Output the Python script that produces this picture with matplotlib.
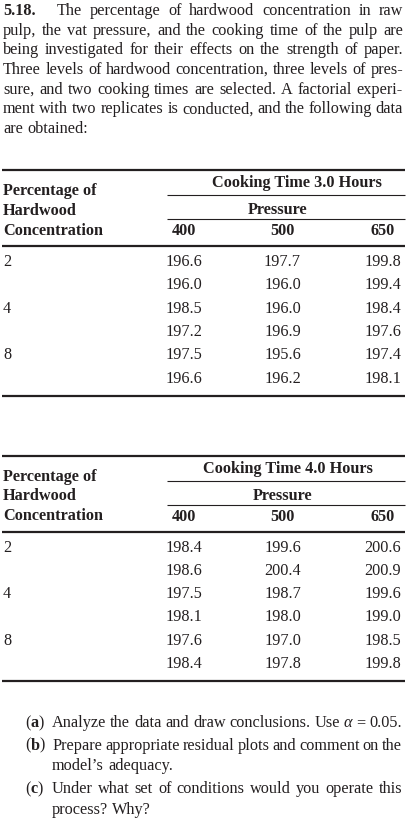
import matplotlib
matplotlib.use('Agg')
import matplotlib.pyplot as plt

plt.rcParams['font.family'] = ['Liberation Serif', 'DejaVu Serif']

ink = '#231f20'
fs = 11.7

intro_num = '5.18.'
intro = ['The percentage of hardwood concentration in raw',
         'pulp, the vat pressure, and the cooking time of the pulp are',
         'being investigated for their effects on the strength of paper.',
         'Three levels of hardwood concentration, three levels of pres-',
         'sure, and two cooking times are selected. A factorial experi-',
         'ment with two replicates is conducted, and the following data',
         'are obtained:']

conc = ['2', '4', '8']
pressure = ['400', '500', '650']
times = ['3.0', '4.0']
t3 = [[196.6, 197.7, 199.8],
      [196.0, 196.0, 199.4],
      [198.5, 196.0, 198.4],
      [197.2, 196.9, 197.6],
      [197.5, 195.6, 197.4],
      [196.6, 196.2, 198.1]]
t4 = [[198.4, 199.6, 200.6],
      [198.6, 200.4, 200.9],
      [197.5, 198.7, 199.6],
      [198.1, 198.0, 199.0],
      [197.6, 197.0, 198.5],
      [198.4, 197.8, 199.8]]

fig = plt.figure(figsize=(4.11, 8.22), dpi=100)
ax = fig.add_axes([0, 0, 1, 1])
ax.set_xlim(0, 411)
ax.set_ylim(822, 0)
ax.axis('off')
rend = fig.canvas.get_renderer()


def width(s, **kw):
    t = ax.text(0, 0, s, fontsize=fs, **kw)
    w = t.get_window_extent(rend).width
    t.remove()
    return w


def line(words, x0, x1, y, justify=True):
    # words: list of (text, kwargs)
    ws = [width(w, **k) for w, k in words]
    if justify and len(words) > 1:
        gap = (x1 - x0 - sum(ws)) / (len(words) - 1)
    else:
        gap = width('a b') - width('ab')
    x = x0
    for (w, k), wd in zip(words, ws):
        ax.text(x, y, w, fontsize=fs, color=ink, va='baseline', ha='left', **k)
        x += wd + gap


def label(letter, x, y):
    # "(a)" with regular parens and bold letter
    for s, k in [('(', {}), (letter, {'weight': 'bold'}), (')', {})]:
        ax.text(x, y, s, fontsize=fs, color=ink, va='baseline', **k)
        x += width(s, **k)


def plain(s):
    return [(w, {}) for w in s.split()]


# intro paragraph
ax.text(3, 15, intro_num, fontsize=fs, color=ink, weight='bold', va='baseline')
ys = [15 + 19.65 * i for i in range(len(intro))]
for i, s in enumerate(intro):
    x0 = 57 if i == 0 else 3
    line(plain(s), x0, 403, ys[i], justify=(i < len(intro) - 1))


def table(dy, data, tlabel, tcx, pcx):
    ax.plot([2, 405], [170.5 + dy, 170.5 + dy], color=ink, lw=1.6, solid_capstyle='butt')
    ax.plot([167, 405], [195 + dy, 195 + dy], color=ink, lw=0.8, solid_capstyle='butt')
    ax.plot([167, 405], [219 + dy, 219 + dy], color=ink, lw=0.8, solid_capstyle='butt')
    ax.plot([2, 405], [246 + dy, 246 + dy], color=ink, lw=1.6, solid_capstyle='butt')
    ax.plot([2, 405], [395.5 + dy, 395.5 + dy], color=ink, lw=1.6, solid_capstyle='butt')
    for s, y in zip(['Percentage of', 'Hardwood', 'Concentration'], [195, 214.5, 234.5]):
        ax.text(3, y + dy, s, fontsize=fs, color=ink, weight='bold', va='baseline')
    ax.text(tcx, 187 + dy, 'Cooking Time %s Hours' % tlabel, fontsize=fs, color=ink,
            weight='bold', va='baseline', ha='center')
    ax.text(pcx, 214 + dy, 'Pressure', fontsize=fs, color=ink, weight='bold',
            va='baseline', ha='center')
    cx = [184, 282.5, 382.5]
    for p, x in zip(pressure, cx):
        ax.text(x, 235 + dy, p, fontsize=fs, color=ink, weight='bold',
                va='baseline', ha='center')
    for r, row in enumerate(data):
        y = 266 + 23.3 * r + dy
        if r % 2 == 0:
            ax.text(3, y, conc[r // 2], fontsize=fs, color=ink, va='baseline')
        for v, x in zip(row, cx):
            ax.text(x, y, '%.1f' % v, fontsize=fs, color=ink, va='baseline', ha='center')


table(0, t3, times[0], 297, 277.5)
table(285.5, t4, times[1], 288, 283)

# questions
label('a', 25, 727)
line(plain('Analyze the data and draw conclusions. Use') + [('α', {'style': 'italic'}), ('=', {}), ('0.05.', {})],
     52, 402, 727)
label('b', 25, 749.5)
line(plain('Prepare appropriate residual plots and comment on the'), 52, 402, 749.5)
line(plain('model’s adequacy.'), 52, 402, 770, justify=False)
label('c', 25, 793)
line(plain('Under what set of conditions would you operate this'), 52, 402, 793)
line(plain('process? Why?'), 52, 402, 814, justify=False)

fig.savefig('out.png', dpi=100)
